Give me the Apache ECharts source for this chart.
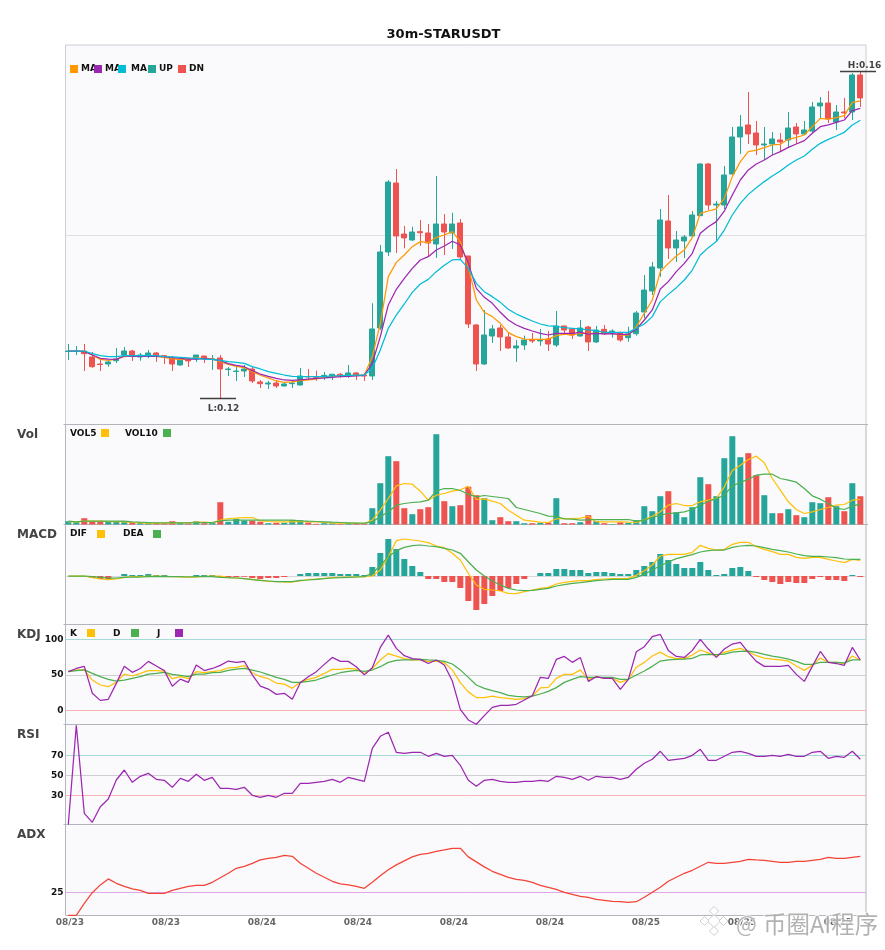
<!DOCTYPE html>
<html><head><meta charset="utf-8">
<script src="https://cdn.jsdelivr.net/npm/echarts@6/dist/echarts.min.js"></script>
<style>html,body{margin:0;padding:0;background:#fff}#c{width:885px;height:950px}</style>
</head><body><div id="c"></div>
<script>
const tickIndex=[0,12,24,36,48,60,72,84,96];
const tickLabels=['08/23','08/23','08/24','08/24','08/24','08/24','08/25','08/25','08/25'];
const opens=[.12579,.12579,.12585,.12512,.12426,.12426,.12466,.12536,.12585,.12512,.12524,.12561,.12528,.12500,.12414,.12484,.12487,.12524,.12484,.12500,.12358,.12334,.12340,.12365,.12206,.12181,.12193,.12157,.12185,.12169,.12273,.12270,.12270,.12279,.12300,.12283,.12316,.12291,.12279,.12867,.13798,.14643,.14018,.13945,.14047,.14031,.13896,.14141,.14031,.14153,.13749,.12904,.12426,.12769,.12867,.12757,.12622,.12659,.12720,.12708,.12732,.12659,.12892,.12855,.12769,.12879,.12696,.12851,.12806,.12806,.12748,.12797,.13063,.13320,.13602,.14178,.13847,.13933,.13994,.14243,.14876,.14374,.14374,.14753,.15207,.15354,.15256,.15109,.15121,.15170,.15170,.15329,.15244,.15280,.15587,.15623,.15390,.15513,.15513,.15966];
const closes=[.12585,.12585,.12552,.12393,.12419,.12451,.12487,.12585,.12536,.12536,.12561,.12528,.12515,.12426,.12475,.12463,.12536,.12500,.12491,.12365,.12365,.12340,.12365,.12218,.12185,.12193,.12157,.12181,.12193,.12279,.12267,.12263,.12287,.12300,.12283,.12316,.12291,.12279,.12855,.13798,.14655,.13994,.13970,.14043,.14034,.13908,.14141,.14043,.14141,.13737,.12916,.12426,.12781,.12855,.12757,.12622,.12647,.12720,.12708,.12720,.12671,.12892,.12842,.12781,.12867,.12696,.12842,.12794,.12830,.12720,.12794,.13051,.13332,.13614,.14190,.13847,.13945,.13982,.14251,.14876,.14374,.14386,.14741,.15207,.15329,.15244,.15109,.15121,.15182,.15146,.15317,.15244,.15293,.15574,.15623,.15427,.15513,.15501,.15966,.15685];
const lows=[.12475,.12536,.12340,.12381,.12340,.12393,.12438,.12515,.12463,.12466,.12496,.12451,.12426,.12340,.12405,.12389,.12451,.12438,.12353,.12003,.12279,.12218,.12267,.12193,.12132,.12120,.12132,.12148,.12132,.12160,.12230,.12218,.12230,.12230,.12255,.12255,.12230,.12218,.12230,.12842,.13749,.13786,.13843,.13933,.13872,.13749,.13725,.13761,.13835,.13712,.12867,.12340,.12414,.12683,.12585,.12610,.12451,.12598,.12683,.12647,.12585,.12634,.12806,.12732,.12760,.12585,.12683,.12781,.12748,.12699,.12699,.12773,.12986,.13271,.13495,.13712,.13676,.13725,.13985,.14243,.14313,.13921,.14325,.14750,.14999,.15121,.14986,.14925,.14986,.15023,.15072,.15121,.15231,.15256,.15427,.15378,.15293,.15440,.15415,.15574];
const highs=[.12671,.12647,.12671,.12573,.12475,.12475,.12622,.12634,.12598,.12561,.12598,.12573,.12536,.12524,.12500,.12508,.12536,.12524,.12536,.12536,.12389,.12389,.12414,.12389,.12230,.12218,.12230,.12193,.12226,.12377,.12365,.12344,.12328,.12304,.12316,.12414,.12328,.12312,.13170,.13884,.14680,.14815,.14117,.14108,.14190,.14141,.14729,.14263,.14279,.14202,.13749,.12916,.13088,.12904,.12904,.12806,.12720,.12773,.12806,.12855,.12830,.13075,.12892,.12855,.12965,.12892,.12892,.12904,.12851,.12822,.12883,.13075,.13516,.13676,.14325,.14496,.14055,.14006,.14300,.14885,.14888,.14423,.14852,.15329,.15476,.15758,.15403,.15329,.15268,.15256,.15513,.15378,.15403,.15636,.15697,.15770,.15599,.15685,.15991,.16007];
const ma5=[.12585,.12585,.12585,.12536,.12483,.12471,.12487,.12515,.12528,.12524,.12528,.12520,.12508,.12491,.12479,.12487,.12500,.12491,.12491,.12454,.12422,.12398,.12381,.12332,.12288,.12255,.12218,.12202,.12206,.12221,.12230,.12242,.12263,.12270,.12279,.12283,.12288,.12291,.12516,.12924,.13496,.13671,.13761,.13863,.13925,.13912,.13978,.14006,.14047,.13925,.13618,.13210,.13059,.13006,.12924,.12810,.12761,.12732,.12728,.12728,.12728,.12773,.12793,.12781,.12802,.12802,.12802,.12802,.12802,.12781,.12781,.12883,.13047,.13210,.13557,.13659,.13749,.13823,.13974,.14272,.14300,.14325,.14455,.14721,.14905,.15027,.15047,.15076,.15109,.15117,.15178,.15203,.15231,.15333,.15435,.15427,.15444,.15468,.15631,.15648];
const ma10=[.12585,.12585,.12579,.12536,.12496,.12487,.12483,.12524,.12520,.12520,.12520,.12520,.12515,.12503,.12496,.12487,.12487,.12491,.12483,.12466,.12430,.12410,.12393,.12344,.12303,.12275,.12251,.12230,.12226,.12230,.12242,.12251,.12255,.12263,.12270,.12275,.12279,.12288,.12434,.12761,.13149,.13341,.13475,.13598,.13700,.13741,.13822,.13872,.13929,.13884,.13659,.13353,.13243,.13169,.13059,.12965,.12904,.12863,.12830,.12802,.12781,.12802,.12802,.12802,.12814,.12793,.12802,.12794,.12798,.12790,.12790,.12851,.12965,.13088,.13345,.13435,.13557,.13659,.13782,.14027,.14108,.14170,.14300,.14496,.14680,.14803,.14876,.14925,.14986,.15027,.15080,.15121,.15162,.15252,.15333,.15354,.15386,.15415,.15529,.15558];
const ma20=[.12585,.12585,.12585,.12552,.12528,.12515,.12515,.12528,.12528,.12528,.12533,.12528,.12515,.12512,.12508,.12500,.12496,.12487,.12483,.12471,.12454,.12446,.12434,.12393,.12365,.12332,.12312,.12291,.12275,.12270,.12270,.12270,.12270,.12279,.12283,.12288,.12291,.12291,.12373,.12598,.12863,.13026,.13161,.13304,.13406,.13463,.13557,.13635,.13700,.13708,.13598,.13414,.13312,.13251,.13181,.13096,.13039,.12994,.12953,.12916,.12892,.12887,.12871,.12863,.12855,.12843,.12834,.12814,.12814,.12814,.12814,.12863,.12916,.13006,.13190,.13279,.13361,.13455,.13577,.13761,.13851,.13925,.14067,.14251,.14394,.14504,.14586,.14660,.14729,.14790,.14864,.14925,.14974,.15056,.15129,.15178,.15219,.15264,.15354,.15411];
const lowMark=.12003, highMark=.16009;
const volumes=[3.3,2.3,6.3,3.3,3.3,3,3,2.5,2,1.7,1.7,1.3,1.3,3.3,1.7,1,3.3,1.3,2,22.3,2.7,5.7,4,3.7,2.7,1.3,1.7,1.7,4.3,4.3,2,.7,1.3,1.3,.7,1.3,1,1,16.3,41.3,68.3,63.3,16.3,10.3,15.3,17.3,90.3,23.3,18.3,19.3,37.7,29.3,26.3,4.3,7.3,3.3,3.3,1.3,1.3,1.7,2,26.3,1.3,1.3,2.3,9.3,3.3,1.3,.5,2.3,1.7,4.3,18.3,13.3,28.3,33.3,12.3,7.3,17.3,47.3,40.3,28.3,66.3,88.3,67.3,71.3,49.3,29.3,11.3,11.3,15.3,9.3,7.3,22.3,21.3,27.3,18.3,13.3,41.3,28.3];
const vol5=[2.7,2.7,3.3,3.3,3.3,3,3,2.7,2,1.7,1.3,1.3,1.3,1.7,1.7,1.7,2.3,2.3,1.7,4.3,6,6.3,7,7,3.7,3,2.7,2.7,2.7,3,2.7,2.7,2,1.3,1.3,1.3,1.3,1,4.3,14.3,26,38.7,41,40.3,33.3,24.3,29.3,31,33.3,34.7,38.3,25,25.7,23.3,21,14.3,9.3,4.3,3.3,2.3,2,5.7,6,6,6.3,8,2.7,2.7,2.7,2.7,2.3,2,4.7,8.3,12.7,19.3,21,19,19,22.7,24.3,26,37.7,54,59.3,65,68.3,61.7,46,34.3,22.7,15,11,12.7,15,17,19.3,20,24.3,25];
const vol10=[3.3,2.7,3.3,3.3,3.3,3.3,3.3,3.3,2.7,2.3,2,1.7,1.7,1.7,1.7,1.7,1.7,2,2,3.7,4.3,4.3,4.3,4.3,4.3,4.3,4.3,4.3,4.3,3.7,3.3,3,2.7,2.3,2,1.7,1.3,1.3,2.7,7.7,12.7,19.3,21,22,22.7,24.3,33.7,36,36,34,30.3,27.7,29,28,27,26,17,15,13,11,8.3,8,5.7,5.3,4.3,4.7,5,5,5,5,5,3.3,4.3,7,9.3,11,11.7,12.7,15,19.3,23.3,25.7,29.3,38.7,42,45.3,49.3,50.3,50.3,46,44.3,42.3,36,28.7,25.3,21,16.3,15,18.3,20.3];
const macdHist=[0,0,0,-2,-3,-3,0,2,1,1,2,1,1,-1,-.2,-.2,1,1,1,-1,-1,-1,-.7,-2,-3,-2,-2,-1,0,2,3,3,3,3,2,2,2,1,9,23,37,27,17,10,4,-3,-3,-6,-6,-12,-25,-34,-28,-20,-15,-12,-8,-3,0,3,3,7,7,6,6,3,4,4,3,2,2,6,10,14,22,16,12,8,8,14,6,1,2,8,9,5,-1,-4,-6,-8,-6,-7,-7,-3,-1,-4,-4,-5,1,-1];
const dif=[0,0,0,-1.7,-3,-3.7,-3,-1.3,-.7,-.7,-.3,0,-.3,-.7,-1,-1,-1,-.3,0,0,-1.7,-2,-2.7,-3.3,-4.3,-5.3,-5.7,-6,-6,-5,-3.3,-3,-2.3,-1.7,-1.3,-1,-1,-.7,0,6,19.3,35.3,37,36,35,33.3,30,28.3,22.7,16,2.7,-9,-13.3,-14,-15,-17.3,-17.7,-15.7,-14,-12.3,-11.3,-8,-6.3,-5.3,-4.7,-4.7,-3.7,-3,-2.7,-2.7,-2.3,.7,5.3,11,20,21.7,21.7,21.7,23.7,30.7,27.7,26,26.7,31.7,33.7,33.7,29.3,26.7,24.3,21.7,21.7,18.7,17.7,18.7,18.7,16.7,15,13.3,16.7,15.7];
const dea=[0,0,0,-.7,-1.3,-2,-2,-1.3,-1,-1,-.7,-.7,-.7,-.7,-.7,-1,-.7,-.7,-.7,-1.3,-1.7,-2,-2.7,-3.7,-4.3,-5,-5.7,-5.7,-5.7,-4.3,-4,-3.3,-2.7,-2,-1.7,-1.3,-1,-.7,2.7,10.3,19.3,25.3,28.7,30.3,31,30,29.3,27.7,26,22.7,14.3,6,0,-5,-9,-12.3,-14,-14.7,-14.3,-13.3,-12.3,-10,-8.7,-7.3,-6.7,-5.7,-4.7,-4,-3.3,-3.3,-3.3,-1.3,1.7,6,10.3,14,17.3,19.3,21.3,24,25.3,26,26,28.7,30,30.7,30,28.3,26.7,25.3,24,22,20.3,19.7,19.7,19,18.3,17,16.7,16.7];
const kLine=[54.5,57,57,42.7,35.7,33.3,39.4,51.2,48.4,52,56,56,55.4,44.6,47.4,44.6,54.5,53,54.5,56,60,60.6,63,53,47.4,44.6,38.5,37,31,40,43.7,46.5,52,57.7,57.7,59,58,52,59,71,80,76.5,73,71,71,68.5,69.5,67,57,39,26,18,18,20,18,17,15.5,16.4,20,31.5,32.4,45,50.7,50.7,57,43.7,47.4,45,45,39.4,43.7,60.6,67.6,76.5,82,75.6,72.8,72.8,78,85,81,76.5,81.7,85,87.3,82.6,77,73.7,72.3,71,69.5,62.4,56.3,63.4,73.7,67.6,67.6,65.7,76.5,71];
const dLine=[54.5,56,57,52,47.4,43.7,41.3,42.7,45,47.4,51,52,53.5,50.7,49.3,47.4,51,51,53,53.5,56.3,58,59,56.8,54,50.2,46.5,43.7,39.4,39.4,40.8,42.7,46.5,49.8,53,55,56.3,55,56.8,61.5,67.6,70.4,71,71,71.8,71,70.4,69,65.3,57,46.5,35.7,31,27.7,25,21,19.7,18.8,20,23,26.8,32,39.4,43.7,47.4,46.5,46.5,46.5,46.5,43.7,43.7,49.8,55.4,62,69.5,71,71.8,72.3,73.2,78,79,78.4,79.3,82,83,83.6,81.7,79,76.5,74.6,72.3,69,64.8,64.8,67.6,67.6,67.6,67,71,71];
const jLine=[54.5,59,62,24,14,15.5,38,62,53.5,59,69,62.4,56,34,44,39.4,64,56,59,63.4,69.5,67.6,69,50,34,30,22.5,24,15.5,39,47.4,54.5,64.8,74.6,69,69,61.5,50,60,88.7,106,87.3,77,73,71.8,66,71,64,41.3,1.4,-13.6,-19.7,-7.5,4.2,7,7,8.5,14.6,20.7,46.5,45,71.8,76,67.6,74.6,40.8,47.4,45,45,29.6,43.7,82.6,89.7,104,107,84.5,76,74.6,84.5,100,86.4,74.6,86.4,93.4,95.8,81.7,69,62,62,62,63.4,50.7,40.8,62,83,67.6,66,63.4,88.7,71];
const rsi=[.8,100,12,3,18.6,26.3,45.3,55.3,43,49,52,46,45,38,47,44,51,45,48,37,37,36,38,30,28,30,28,32,32,42,42,43,44,46,43,48,46,44,77,89,93,73,72,73,73,69,72,69,70,60,45,39,45,46,44,43,43,44,44,45,44,49,48,46,49,45,49,48,48,46,48,56,62,66,74,65,66,67,70,76,65,65,69,73,74,72,69,69,70,69,71,69,69,73,74,67,69,68,74,66];
const adx=[13.5,13.5,19.5,24.8,28.7,31.7,29.5,28,26.7,26,24.5,24.5,24.5,26,27,28,28.5,28.5,30,32.3,34.5,37,38,39.5,41.2,42,42.5,43.5,43,39.5,37,34.5,32.5,30.5,29.2,28.7,28,27,30,33.3,36.3,38.7,40.7,42.7,44,44.5,45.5,46.2,47,47,42.7,40.2,37.7,35.5,34,32.5,31.5,31,30,28.5,27.5,26.5,25,24,23,22.5,21.5,21,20.5,20.3,20,20.3,22.5,25,27.5,30.5,32.5,34.5,36,38,40,39.5,39.5,40,40.5,41.5,41.2,41,40.5,40,40,40.5,40.5,41,41.5,42.5,42,42,42.5,43];

const UP='#26A69A',DN='#EF5350',ORG='#FF9800',PUR='#9C27B0',CYA='#00BCD4',YEL='#FFC107',GRN='#4CAF50';
const FONT='"DejaVu Sans"';
const xy=a=>a.map((v,i)=>[i,v]);
const gridDefs=[[45,379.5],[424.5,100],[524.5,100],[624.5,100],[724.5,100],[824.5,91]];
const grid=gridDefs.map(([top,height],i)=>({left:65.5,width:800.5,top,height,show:true,backgroundColor:'#FAFAFC',borderColor:i?'#B4B4BC':'#CDCDD4',borderWidth:1}));
const xAxis=gridDefs.map((_,i)=>({type:'value',gridIndex:i,min:-0.35,max:99.71,show:i===5,
  axisLine:{show:false},axisTick:{show:false},splitLine:{show:false},
  axisLabel:{customValues:tickIndex,margin:3,padding:[0,0,0,3],color:'#666',fontFamily:FONT,fontWeight:'bold',fontSize:9,
    formatter:v=>tickLabels[tickIndex.indexOf(v)]||''}}));
const yLbl=vals=>({customValues:vals,margin:2,color:'#111',fontFamily:FONT,fontWeight:'bold',fontSize:9});
const ya=(i,min,max,vals)=>({type:'value',gridIndex:i,min,max,scale:true,show:!!vals,axisLine:{show:false},axisTick:{show:false},splitLine:{show:false},axisLabel:vals?yLbl(vals):{show:false}});
const yAxis=[ya(0,.116848,.163336),ya(1,0,100),ya(2,-48.5,51.5),ya(3,-20,121,[0,50,100]),ya(4,.8,100.8,[30,50,70]),ya(5,13.4,58.9,[25])];
const line=(name,data,g,color,w=1.25)=>({name,type:'line',data:xy(data),xAxisIndex:g,yAxisIndex:g,symbol:'none',lineStyle:{color,width:w},itemStyle:{color},z:4,silent:true});
const refs=(g,defs)=>({type:'line',data:[],xAxisIndex:g,yAxisIndex:g,symbol:'none',z:1,silent:true,
  markLine:{silent:true,symbol:'none',animation:false,z:1,label:{show:false},data:defs.map(([v,c])=>({yAxis:v,lineStyle:{color:c,width:1,type:'solid'}}))}});
const bars=(name,g,items)=>({name,type:'bar',xAxisIndex:g,yAxisIndex:g,barWidth:6,z:2,data:items,silent:true,clip:true});
const marker=(idx,val,text,pos,off,vo)=>({type:'scatter',xAxisIndex:0,yAxisIndex:0,clip:false,z:6,silent:true,symbol:'rect',symbolSize:[36,1.5],symbolOffset:[-2.3,0],
  itemStyle:{color:'#111'},data:[[idx,val]],label:{show:true,formatter:text,position:pos,distance:3,offset:[off,vo],color:'#111',fontFamily:FONT,fontWeight:'bold',fontSize:9}});
const series=[
  refs(0,[[.14,'#DEDEE4']]),
  {name:'Price',type:'candlestick',xAxisIndex:0,yAxisIndex:0,barWidth:5.4,z:3,silent:true,encode:{x:0,y:[1,2,3,4]},
   data:opens.map((o,i)=>[i,o,closes[i],lows[i],highs[i]]),
   itemStyle:{color:UP,color0:DN,borderColor:UP,borderColor0:DN,borderWidth:1}},
  line('MA5',ma5,0,ORG),line('MA10',ma10,0,PUR),line('MA20',ma20,0,CYA),
  marker(19,lowMark,'L:0.12','bottom',5.5,2),marker(99,highMark,'H:0.16','top',6.5,2),
  bars('Vol',1,volumes.map((v,i)=>({value:[i,v],itemStyle:{color:closes[i]>=opens[i]?UP:DN}}))),
  line('VOL5',vol5,1,YEL),line('VOL10',vol10,1,GRN),
  refs(2,[[0,'#D8D8DC']]),
  bars('MACD',2,macdHist.map((v,i)=>({value:[i,v],itemStyle:{color:v>=0?UP:DN}}))),
  line('DIF',dif,2,YEL),line('DEA',dea,2,GRN),
  refs(3,[[100,'#A6DAD5'],[50,'#CFCFD4'],[0,'#F8B4B4']]),
  line('K',kLine,3,YEL),line('D',dLine,3,GRN),line('J',jLine,3,PUR),
  refs(4,[[70,'#A6DAD5'],[50,'#CFCFD4'],[30,'#F8B4B4']]),
  line('RSI',rsi,4,PUR),
  refs(5,[[25,'#DDA9E6']]),
  line('ADX',adx,5,'#F44336')
];
const txt=(text,x,y,font,fill='#111',align='left')=>({type:'text',silent:true,z:50,style:{text,x,y,font,fill,textAlign:align,textVerticalAlign:'middle'}});
const sw=(x,y,fill)=>({type:'rect',silent:true,z:50,shape:{x,y,width:8,height:8},style:{fill}});
const tick=(x,y)=>({type:'line',silent:true,z:5,shape:{x1:x,y1:y,x2:x+2,y2:y},style:{stroke:'#B4B4BC',lineWidth:1}});
const LF='bold 9px "DejaVu Sans"',PF='bold 12px "DejaVu Sans"';
const dia=(cx,cy,r)=>({type:'polygon',silent:true,z:60,shape:{points:[[cx,cy-r],[cx+r,cy],[cx,cy+r],[cx-r,cy]]},style:{fill:'#fff',stroke:'#cfcfcf',lineWidth:1}});
const graphic=[
  txt('30m-STARUSDT',443.5,34.5,'bold 13px "DejaVu Sans"','#111','center'),
  txt('Vol',17,434.5,PF,'#444'),txt('MACD',17,535,PF,'#444'),txt('KDJ',17,635,PF,'#444'),txt('RSI',17,735,PF,'#444'),txt('ADX',17,835,PF,'#444'),
  txt('MA',81,69,LF),txt('MA',105,69,LF),txt('MA',131,69,LF),txt('UP',159,69,LF),txt('DN',189,69,LF),
  sw(70,65,ORG),sw(94,65,PUR),sw(118,65,CYA),sw(148,65,UP),sw(178,65,DN),
  txt('VOL5',70,433.5,LF),sw(101,429,YEL),txt('VOL10',125,433.5,LF),sw(163,429,GRN),
  txt('DIF',70,534,LF),sw(97,530,YEL),txt('DEA',123,534,LF),sw(153,530,GRN),
  txt('K',70,633.5,LF),sw(87,629,YEL),txt('D',113,633.5,LF),sw(131,629,GRN),txt('J',157,633.5,LF),sw(175,629,PUR),
  ...[424.5,524.5,624.5,724.5,824.5].flatMap(y=>[tick(63.5,y),tick(866,y)]),
  dia(714,921,6.5),dia(714,911,4.5),dia(714,931,4.5),dia(704.5,921,4.5),dia(723.5,921,4.5),
  {type:'text',silent:true,z:60,style:{text:'@',x:736,y:924,font:'22px "Noto Sans CJK SC"',fill:'rgba(170,170,170,.85)',stroke:'rgba(255,255,255,.75)',lineWidth:2,textVerticalAlign:'middle'}},
  {type:'text',silent:true,z:60,style:{text:'币圈AI程序',x:763,y:924,font:'23.5px "Noto Sans CJK SC"',fill:'rgba(165,165,165,.85)',stroke:'rgba(255,255,255,.75)',lineWidth:2,textVerticalAlign:'middle'}}
];
const chart=echarts.init(document.getElementById('c'),null,{renderer:'canvas'});
chart.setOption({animation:false,backgroundColor:'#fff',grid,xAxis,yAxis,series,graphic});
</script></body></html>
